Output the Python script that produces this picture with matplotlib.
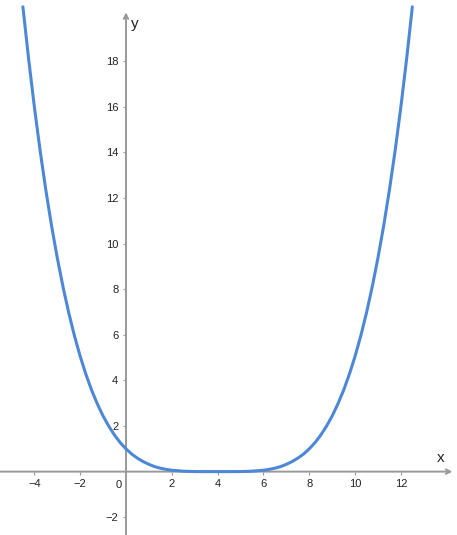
import numpy as np
import matplotlib
matplotlib.use("Agg")
import matplotlib.pyplot as plt

# curve samples (x step 0.25)
x_vals = np.arange(-4.5, 12.5001, 0.25)
y_vals = [20.39, 18.10, 16.00, 14.09, 12.36, 10.79, 9.38, 8.11, 6.97, 5.96,
          5.06, 4.27, 3.57, 2.97, 2.44, 1.99, 1.60, 1.27, 1.00, 0.77,
          0.59, 0.44, 0.32, 0.22, 0.15, 0.10, 0.06, 0.04, 0.02, 0.01,
          0.004, 0.001, 0.0, 0.0, 0.0,
          0.0, 0.0, 0.001, 0.004, 0.01, 0.02, 0.04, 0.06, 0.10, 0.15,
          0.22, 0.32, 0.44, 0.59, 0.77, 1.00, 1.27, 1.60, 1.99, 2.44,
          2.97, 3.57, 4.27, 5.06, 5.96, 6.97, 8.11, 9.38, 10.79, 12.36,
          14.09, 16.00, 18.10, 20.39]

x_ticks = [-4, -2, 2, 4, 6, 8, 10, 12]
x_labels = ["\u22124", "\u22122", "2", "4", "6", "8", "10", "12"]
y_ticks = [-2, 2, 4, 6, 8, 10, 12, 14, 16, 18]
y_labels = ["\u22122", "2", "4", "6", "8", "10", "12", "14", "16", "18"]

plt.rcParams['font.family'] = ['Liberation Sans', 'DejaVu Sans']
axis_col = '#999999'

fig = plt.figure(figsize=(4.57, 5.35), dpi=100)
ax = fig.add_axes([0, 0, 1, 1])
ax.set_xlim(-5.50, 14.45)
ax.set_ylim(-2.78, 20.69)

for s in ax.spines.values():
    s.set_visible(False)
ax.spines['left'].set_position(('data', 0))
ax.spines['bottom'].set_position(('data', 0))

ax.set_xticks(x_ticks)
ax.set_xticklabels(x_labels)
ax.set_yticks(y_ticks)
ax.set_yticklabels(y_labels)
ax.tick_params(axis='both', direction='out', length=2.5, width=0.8, color=axis_col,
               labelsize=8, labelcolor='#222222', pad=3)
ax.text(-0.2, -0.35, "0", ha='right', va='top', fontsize=8, color='#222222')

# axes with open arrow heads
ax.annotate('', xy=(14.25, 0), xytext=(-5.6, 0),
            arrowprops=dict(arrowstyle='->', color=axis_col, lw=1.4,
                            shrinkA=0, shrinkB=0, mutation_scale=8))
ax.annotate('', xy=(0, 20.15), xytext=(0, -2.9),
            arrowprops=dict(arrowstyle='->', color=axis_col, lw=1.4,
                            shrinkA=0, shrinkB=0, mutation_scale=8))
ax.text(13.75, 0.3, "x", ha='center', va='bottom', fontsize=11, color='#222222')
ax.text(0.2, 19.95, "y", ha='left', va='top', fontsize=11, color='#222222')

ax.plot(x_vals, y_vals, color='#4d88d6', lw=2.2, solid_capstyle='round', zorder=3)

fig.savefig("out.png", dpi=100)
